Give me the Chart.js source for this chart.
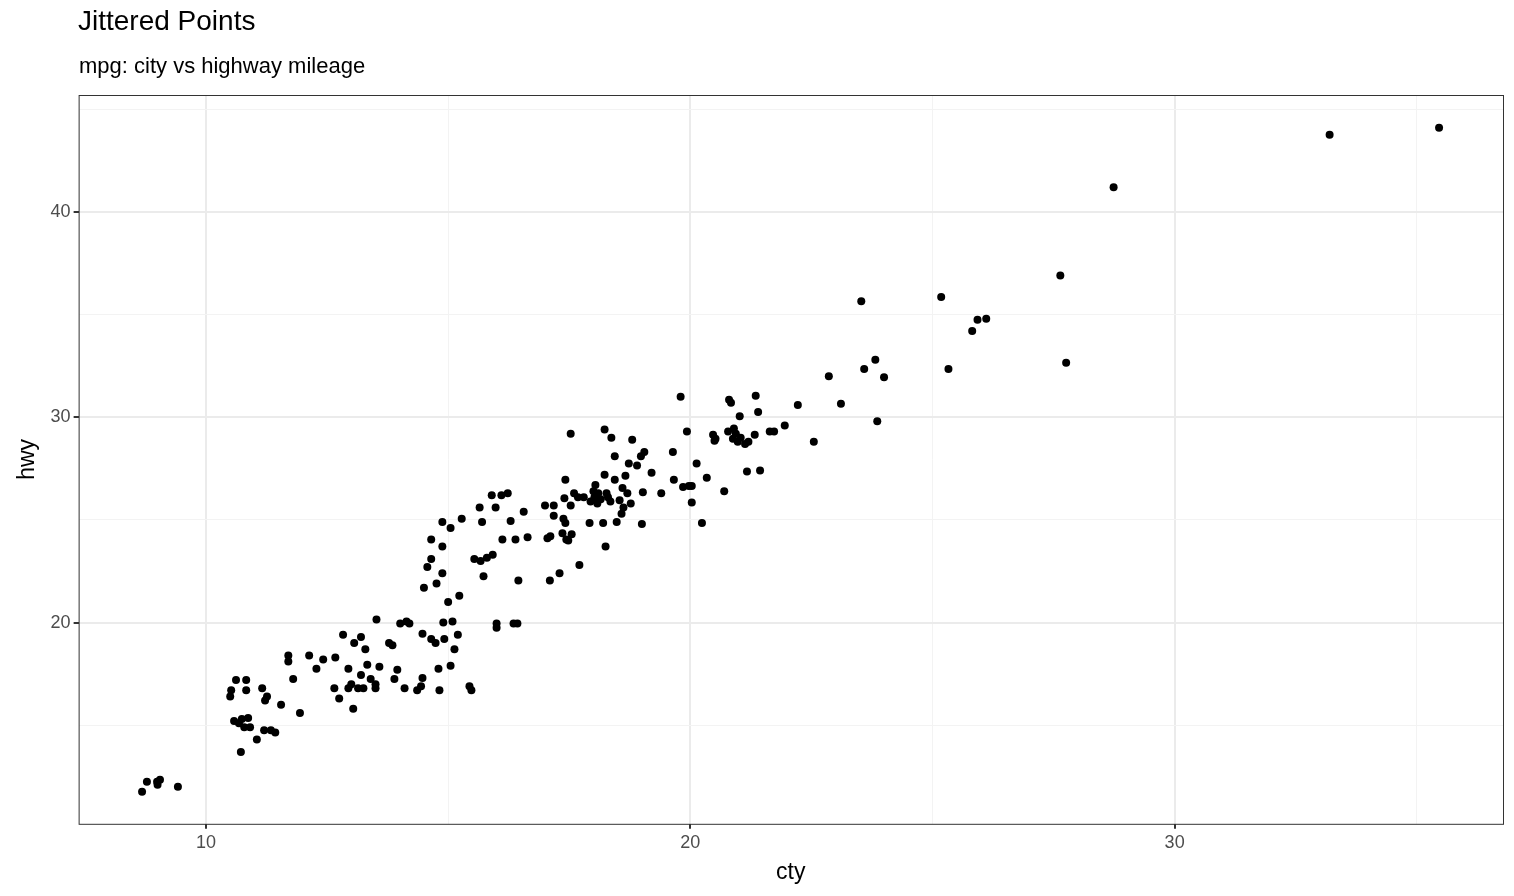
<!DOCTYPE html>
<html>
<head>
<meta charset="utf-8">
<script src="https://cdn.jsdelivr.net/npm/chart.js@4/dist/chart.umd.min.js"></script>
<style>
  html, body { margin: 0; padding: 0; background: #fff; }
  #wrap { width: 1514px; height: 896px; }
</style>
</head>
<body>
<div id="wrap"><canvas id="chart"></canvas></div>
<script>
// city mileage (jittered)
const cty = [
  8.68, 8.78, 8.99, 9.05, 9.0, 9.42,
  10.5, 10.52, 10.62, 10.83, 10.83, 10.58, 10.68, 10.74, 10.87, 10.79, 10.91, 10.72, 11.05, 11.16,
  11.22, 11.26, 11.2, 11.34, 11.43, 11.55, 11.8, 11.7, 11.7, 11.94, 12.13, 12.28, 12.42, 12.67,
  12.65, 12.75, 12.83, 12.94, 12.94, 13.0, 13.04, 13.06, 13.14, 13.2, 13.2, 13.25, 13.29, 13.33,
  13.4, 13.5, 13.52, 13.58, 13.5, 13.78, 13.85, 13.89, 13.95, 14.01, 14.1, 14.14, 14.2, 14.36,
  14.44, 14.47, 14.47, 14.5, 14.57, 14.65, 14.65, 14.65, 14.74, 14.76, 14.8, 14.82, 14.88, 14.88,
  14.88, 14.9, 14.92, 15.0, 15.05, 15.05, 15.09, 15.13, 15.2, 15.23, 15.28, 15.44, 15.48, 15.54,
  15.65, 15.67, 15.7, 15.73, 15.8, 15.9, 15.92, 15.98, 16.0, 16.0, 16.1, 16.12, 16.23, 16.29,
  16.35, 16.43, 16.45, 16.39, 16.56, 16.64, 17.0, 17.05, 17.1, 17.11, 17.18, 17.18, 17.3, 17.36,
  17.38, 17.4, 17.42, 17.42, 17.44, 17.48, 17.53, 17.55, 17.53, 17.6, 17.68, 17.71, 17.8, 17.92,
  17.94, 18.0, 18.02, 18.04, 18.08, 18.1, 18.15, 18.2, 18.23, 18.23, 18.25, 18.27, 18.3, 18.35,
  18.37, 18.44, 18.44, 18.48, 18.54, 18.58, 18.6, 18.62, 18.66, 18.73, 18.7, 18.8, 18.77, 18.9,
  18.98, 19.0, 19.02, 19.05, 19.2, 19.4, 19.64, 19.66, 19.8, 19.85, 19.93, 19.97, 20.03, 20.03,
  20.13, 20.24, 20.34, 20.47, 20.5, 20.52, 20.7, 20.78, 20.8, 20.84, 20.88, 20.9, 20.94, 20.98,
  21.02, 21.04, 21.13, 21.17, 21.2, 21.33, 21.35, 21.4, 21.44, 21.64, 21.73, 21.95, 22.22, 22.55,
  22.86, 23.11, 23.53, 23.59, 23.82, 23.86, 24.0, 25.18, 25.33, 25.82, 25.93, 26.11, 27.64, 27.76,
  28.74, 33.2, 35.46
];
// highway mileage (jittered), same order
const hwy = [
  11.76, 12.25, 12.25, 12.35, 12.1, 12.0,
  16.4, 16.7, 17.2, 17.2, 16.7, 15.2, 15.1, 15.3, 15.35, 14.9, 14.9, 13.7, 14.3, 16.8,
  16.2, 16.4, 14.75, 14.75, 14.65, 16.0, 17.25, 18.4, 18.1, 15.6, 18.4, 17.75, 18.2, 18.3,
  16.8, 16.3, 19.4, 17.75, 16.8, 17.0, 15.8, 19.0, 16.8, 17.45, 19.3, 16.8, 18.7, 17.95,
  17.25, 17.0, 20.15, 17.85, 16.8, 19.0, 18.9, 17.25, 17.7, 19.95, 16.8, 20.05, 19.95, 16.7,
  16.9, 17.3, 19.45, 21.7, 22.7, 23.1, 24.05, 19.2, 19.0, 21.9, 17.75, 16.7, 24.9, 23.7,
  22.4, 20.0, 19.2, 21.0, 24.6, 17.9, 20.05, 18.7, 19.4, 21.3, 25.05, 16.9, 16.7, 23.1,
  25.6, 23.0, 24.9, 22.25, 23.15, 26.2, 23.3, 25.6, 19.95, 19.75, 26.2, 24.05, 26.3, 24.95,
  19.95, 19.95, 22.05, 24.05, 25.4, 24.15, 25.7, 24.1, 22.05, 24.2, 25.2, 25.7, 22.4, 24.35,
  25.05, 26.05, 24.85, 26.95, 24.05, 24.0, 29.2, 24.3, 25.7, 26.3, 26.1, 22.8, 26.1, 24.85,
  25.9, 26.4, 26.1, 26.7, 25.8, 26.3, 26.0, 24.85, 29.4, 27.2, 23.7, 26.3, 26.1, 25.9,
  29.0, 26.95, 28.1, 24.9, 25.95, 25.3, 26.55, 25.6, 27.15, 27.75, 26.3, 28.9, 25.8, 27.65,
  28.1, 24.8, 26.35, 28.3, 27.3, 26.3, 28.3, 26.95, 31.0, 26.6, 29.3, 26.65, 25.85, 26.65,
  27.75, 24.85, 27.05, 29.15, 28.85, 28.95, 26.4, 29.3, 30.85, 30.7, 28.95, 29.45, 29.2, 28.8,
  30.05, 29.0, 28.7, 27.35, 28.8, 29.15, 31.05, 30.25, 27.4, 29.3, 29.3, 29.6, 30.6, 28.8,
  32.0, 30.65, 35.65, 32.35, 32.8, 29.8, 31.95, 35.85, 32.35, 34.2, 34.75, 34.8, 36.9, 32.65,
  41.2, 43.75, 44.1
];
const xTicks = [10, 15, 20, 25, 30, 35];
const yTicks = [15, 20, 25, 30, 35, 40, 45];
const majorX = [10, 20, 30];
const majorY = [20, 30, 40];

const points = cty.map((x, i) => ({ x, y: hwy[i] }));
const FONT = "Liberation Sans, Arial, sans-serif";

// panel border + ggplot-style titles
const panelDecor = {
  id: "panelDecor",
  afterDraw(chart) {
    const a = chart.chartArea;
    const c = chart.ctx;
    c.save();
    c.strokeStyle = "#333333";
    c.lineWidth = 1;
    c.strokeRect(a.left + 0.5, a.top + 0.5, a.right - a.left, a.bottom - a.top);
    c.fillStyle = "#000";
    c.textBaseline = "alphabetic";
    c.textAlign = "left";
    c.font = "28px " + FONT;
    c.fillText("Jittered Points", 78, 30);
    c.font = "22px " + FONT;
    c.fillText("mpg: city vs highway mileage", 79, 73);
    c.restore();
  }
};

const isMajor = (majors, ctx) => majors.includes(ctx.tick && ctx.tick.value);
const gridOpts = (majors) => ({
  color: (ctx) => (isMajor(majors, ctx) ? "#ebebeb" : "#f3f3f3"),
  lineWidth: (ctx) => (isMajor(majors, ctx) ? 2 : 1),
  tickColor: (ctx) => (isMajor(majors, ctx) ? "#333333" : "rgba(0,0,0,0)"),
  tickLength: 5,
});

new Chart(document.getElementById("chart"), {
  type: "scatter",
  data: {
    datasets: [{
      data: points,
      backgroundColor: "#000",
      borderWidth: 0,
      pointRadius: 4,
    }],
  },
  options: {
    responsive: true,
    maintainAspectRatio: false,
    animation: false,
    layout: { padding: { left: 10, right: 11, top: 95, bottom: 6 } },
    plugins: {
      legend: { display: false },
      tooltip: { enabled: false },
    },
    scales: {
      x: {
        type: "linear", min: 7.37, max: 36.78,
        afterBuildTicks: (s) => { s.ticks = xTicks.map((v) => ({ value: v })); },
        ticks: {
          callback: (v) => (majorX.includes(v) ? v : ""),
          color: "#4d4d4d", font: { family: FONT, size: 18 },
          maxRotation: 0, autoSkip: false,
        },
        grid: gridOpts(majorX),
        border: { display: false },
        title: { display: true, text: "cty", color: "#000", font: { family: FONT, size: 23 }, padding: { top: 2 } },
      },
      y: {
        type: "linear", min: 10.2, max: 45.69,
        afterBuildTicks: (s) => { s.ticks = yTicks.map((v) => ({ value: v })); },
        ticks: {
          callback: (v) => (majorY.includes(v) ? v : ""),
          color: "#4d4d4d", font: { family: FONT, size: 18 },
          autoSkip: false,
        },
        grid: gridOpts(majorY),
        border: { display: false },
        title: { display: true, text: "hwy", color: "#000", font: { family: FONT, size: 23 }, padding: { bottom: 6 } },
      },
    },
  },
  plugins: [panelDecor],
});
</script>
</body>
</html>
